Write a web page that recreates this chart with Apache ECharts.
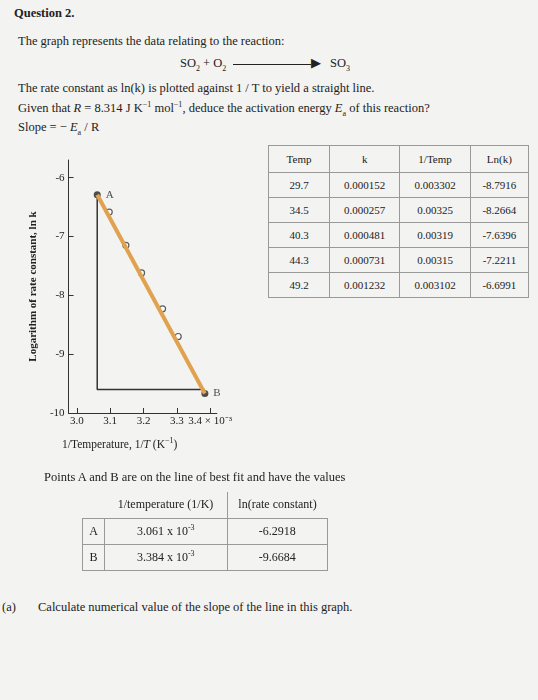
<!DOCTYPE html><html><head><meta charset="utf-8">
<script src="https://cdn.jsdelivr.net/npm/echarts@6/dist/echarts.min.js"></script>
<style>
body{margin:0;width:538px;height:700px;background:#f3f3f1;font-family:"Liberation Serif",serif;color:#222;position:relative;overflow:hidden}
.t{position:absolute;font-size:12.5px;white-space:nowrap}
table{border-collapse:collapse;position:absolute;font-size:11px}
td{border:1px solid #999;text-align:center;padding:0}
</style></head><body>
<div class="t" style="left:14px;top:6px;font-weight:bold">Question 2.</div>
<div class="t" style="left:18px;top:34px">The graph represents the data relating to the reaction:</div>
<div class="t" style="left:180px;top:55px">SO<sub style="font-size:8px">2</sub> + O<sub style="font-size:8px">2</sub> &nbsp;<span style="display:inline-block;width:78px;border-top:1px solid #222;vertical-align:middle"></span>&#9654;&nbsp;&nbsp; SO<sub style="font-size:8px">3</sub></div>
<div class="t" style="left:18px;top:81px">The rate constant as ln(k) is plotted against 1 / T to yield a straight line.</div>
<div class="t" style="left:18px;top:100px">Given that <i>R</i> = 8.314 J K<sup style="font-size:8px">−1</sup> mol<sup style="font-size:8px">−1</sup>, deduce the activation energy <i>E</i><sub style="font-size:8px">a</sub> of this reaction?</div>
<div class="t" style="left:18px;top:120px">Slope = − <i>E</i><sub style="font-size:8px">a</sub> / R</div>
<div id="c" style="position:absolute;left:20px;top:150px;width:215px;height:290px"></div>
<div class="t" style="left:62px;top:436px;font-size:11.5px">1/Temperature, 1/<i>T</i> (K<sup style="font-size:8px">−1</sup>)</div>
<table style="left:268px;top:145px;width:261px">
<tr style="height:27px"><td style="width:60px">Temp</td><td>k</td><td>1/Temp</td><td>Ln(k)</td></tr>
<tr style="height:25px"><td>29.7</td><td>0.000152</td><td>0.003302</td><td>-8.7916</td></tr>
<tr style="height:25px"><td>34.5</td><td>0.000257</td><td>0.00325</td><td>-8.2664</td></tr>
<tr style="height:25px"><td>40.3</td><td>0.000481</td><td>0.00319</td><td>-7.6396</td></tr>
<tr style="height:25px"><td>44.3</td><td>0.000731</td><td>0.00315</td><td>-7.2211</td></tr>
<tr style="height:25px"><td>49.2</td><td>0.001232</td><td>0.003102</td><td>-6.6991</td></tr>
</table>
<div class="t" style="left:44px;top:470px">Points A and B are on the line of best fit and have the values</div>
<table style="left:82px;top:492px;width:246px;font-size:12px">
<tr style="height:26px"><td style="border:none;width:22px"></td><td style="border-top:none;border-left:none">1/temperature (1/K)</td><td style="border:none">ln(rate constant)</td></tr>
<tr style="height:26px"><td>A</td><td>3.061 x 10<sup style="font-size:8px">-3</sup></td><td>-6.2918</td></tr>
<tr style="height:26px"><td>B</td><td>3.384 x 10<sup style="font-size:8px">-3</sup></td><td>-9.6684</td></tr>
</table>
<div class="t" style="left:2px;top:600px">(a)</div>
<div class="t" style="left:38px;top:600px">Calculate numerical value of the slope of the line in this graph.</div>
<script>
const xTicks=[3.0,3.1,3.2,3.3,3.4];
const yTicks=[-10,-9,-8,-7,-6];
const pointA=[3.061,-6.2918];
const pointB=[3.384,-9.6684];
const dataX=[3.097,3.147,3.194,3.257,3.304];
const dataY=[-6.585,-7.15,-7.62,-8.23,-8.70];
const cornerY=-9.6;
const ch=echarts.init(document.getElementById('c'));
const tf={fontFamily:'Liberation Serif',fontSize:11,color:'#222'};
ch.setOption({animation:false,
grid:{left:47,top:10,right:10,bottom:27},
xAxis:{type:'value',min:2.975,max:3.42,axisLine:{onZero:false,lineStyle:{color:'#333'}},splitLine:{show:false},
 axisTick:{inside:true,customValues:xTicks,lineStyle:{color:'#333'}},
 axisLabel:Object.assign({},tf,{margin:3,customValues:xTicks,formatter:v=>v>3.35?'3.4 × 10⁻³':v.toFixed(1)})},
yAxis:{type:'value',min:-10,max:-5.7,name:'Logarithm of rate constant, ln k',nameLocation:'middle',nameGap:28,nameTextStyle:Object.assign({},tf,{fontWeight:'bold'}),
 axisLine:{show:true,lineStyle:{color:'#333'}},splitLine:{show:false},
 axisTick:{inside:true,customValues:yTicks,lineStyle:{color:'#333'}},
 axisLabel:Object.assign({},tf,{margin:4,customValues:yTicks})},
series:[
{type:'line',data:[[pointA[0],pointA[1]],[pointA[0],cornerY],[pointB[0],cornerY]],symbol:'none',lineStyle:{color:'#333',width:1.5}},
{type:'line',data:[pointA,pointB],symbol:'none',lineStyle:{color:'#e0a24e',width:4}},
{type:'scatter',data:dataX.map((x,i)=>[x,dataY[i]]),symbol:'circle',symbolSize:6,itemStyle:{color:'#fff',borderColor:'#333',borderWidth:1.2}},
{type:'scatter',data:[pointA.concat('A'),pointB.concat('B')],symbolSize:7,itemStyle:{color:'#222'},
 label:{show:true,position:'right',formatter:p=>p.value[2],fontFamily:'Liberation Serif',fontSize:11,color:'#222'}}
]});
</script></body></html>
